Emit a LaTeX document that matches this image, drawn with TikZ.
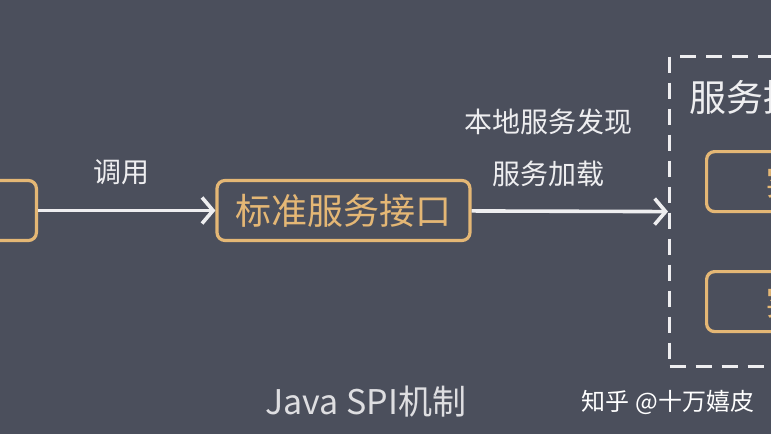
\documentclass[tikz,border=0pt]{standalone}
\usepackage{fontspec}
\setmainfont{Noto Sans CJK SC}
\usetikzlibrary{arrows.meta,positioning}
\definecolor{bg}{HTML}{4B4F5C}
\definecolor{gold}{HTML}{E4B775}
\definecolor{txt}{HTML}{EEEEF0}
\tikzset{%
	block/.style   = {draw=gold, line width=3.2pt, rounded corners=8pt, minimum height=60pt, text=gold, font=\fontsize{36}{36}\selectfont},
	caption/.style = {text=txt, font=\fontsize{28}{28}\selectfont},
	arrow/.style   = {draw=txt, line width=3.6pt, -{Straight Barb[length=11pt,width=26pt]}},
	dashbox/.style = {draw=txt, line width=3.2pt, dash pattern=on 16pt off 10pt},
}
\begin{document}
\begin{tikzpicture}[x=1pt,y=-1pt]
	\fill[bg] (0,0) rectangle (771,434);
	\useasboundingbox (0,0) rectangle (771,434);
	\clip (0,0) rectangle (771,434);
	
	\node[block,minimum width=160pt,anchor=east] (caller) at (38,210.5) {};
	\node[block,minimum width=253pt] (iface) at (343.5,210.5) {标准服务接口};
	\node[dashbox,anchor=north west,minimum width=300pt,minimum height=310pt] (provider) at (668,55) {};
	\node[caption,anchor=west,font=\fontsize{37}{37}\selectfont] (title) at (686,97) {服务提供者};
	\node[block,anchor=north west,minimum width=245pt] (implA) at (705,150) {实现类1};
	\node[block,anchor=north west,minimum width=245pt] (implB) at (705,270) {实现类2};
	
	\node[caption] (call) at (121,172) {调用};
	\node[caption] (find) at (548,122) {本地服务发现};
	\node[caption] (load) at (548,174) {服务加载};
	\node[caption,font=\fontsize{34}{34}\selectfont,text=txt!90!bg] (name) at (366,402) {Java SPI机制};
	\node[text=white,font=\fontsize{24}{24}\selectfont] (mark) at (668,402) {知乎 @十万嬉皮};
	
	\draw[arrow] (caller) -- (iface);
	\draw[arrow] (iface) -- (provider.west);
\end{tikzpicture}
\end{document}
